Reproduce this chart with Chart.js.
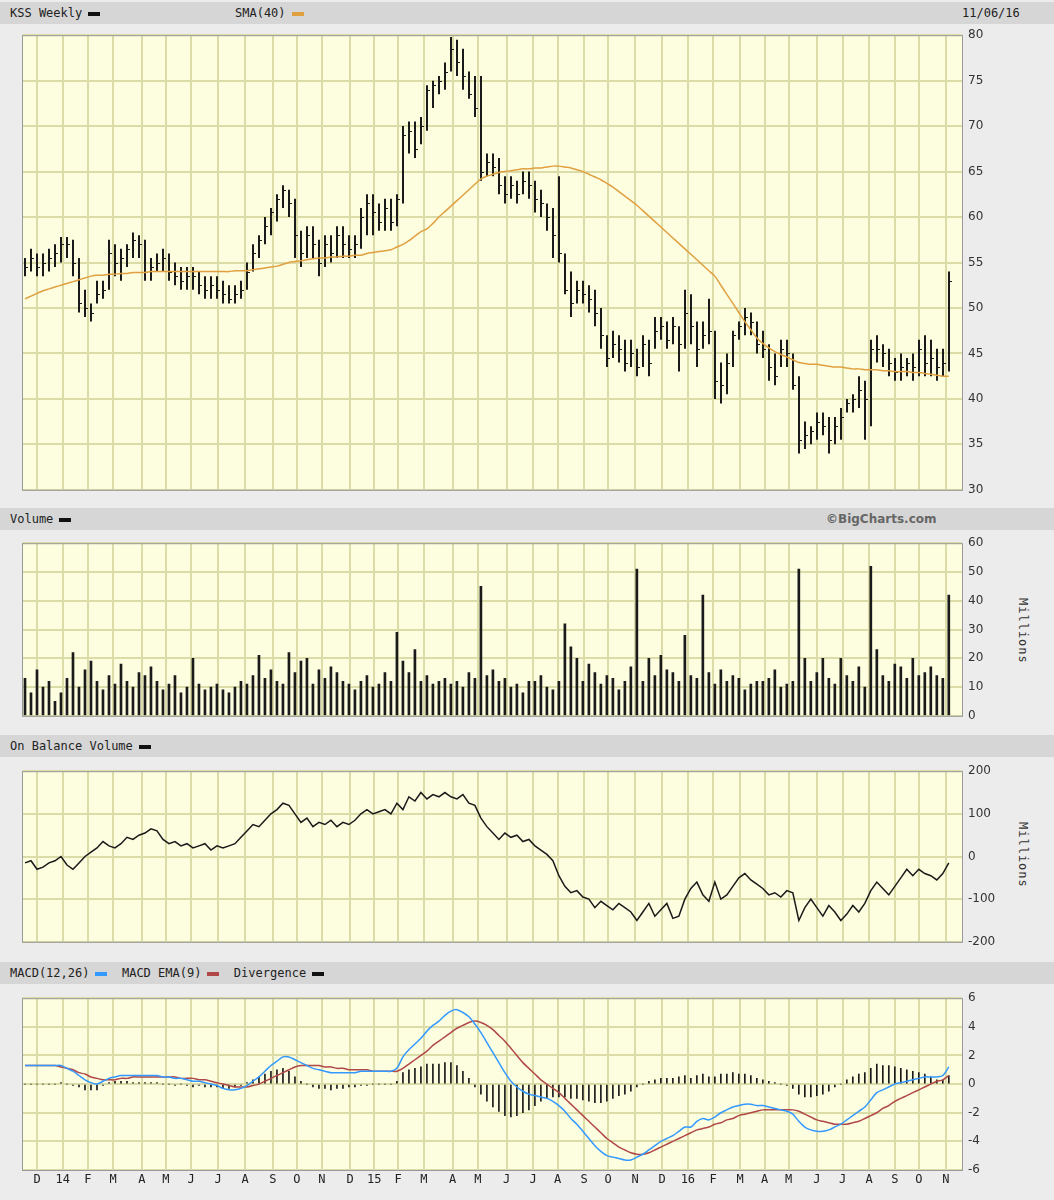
<!DOCTYPE html>
<html>
<head>
<meta charset="utf-8">
<script src="https://cdn.jsdelivr.net/npm/chart.js@4.4.1/dist/chart.umd.min.js"></script>
<style>
  body { margin: 0; background: #ececec; width: 1054px; height: 1200px; position: relative; overflow: hidden; font-family: "DejaVu Sans Mono", monospace; }
  .hdr { position: absolute; left: 0; width: 1054px; height: 22px; background: #d6d6d6; font-size: 12px; color: #222; line-height: 22px; }
  .hdr span { position: absolute; }
  .mk { display: inline-block; width: 12px; height: 4px; vertical-align: middle; margin-left: 6px; }
  canvas { position: absolute; left: 0; }
  .mil { position: absolute; left: 1030px; font-size: 12px; color: #333; transform: rotate(90deg); transform-origin: left top; letter-spacing: 1px; }
</style>
</head>
<body>
<div class="hdr" style="top:2px"><span style="left:10px">KSS Weekly<i class="mk" style="background:#111"></i></span><span style="left:235px">SMA(40)<i class="mk" style="background:#e0a040"></i></span><span style="left:962px">11/06/16</span></div>
<div class="hdr" style="top:508px"><span style="left:10px">Volume<i class="mk" style="background:#111"></i></span><span style="left:826px;font-family:'DejaVu Sans';font-weight:bold;color:#666">©BigCharts.com</span></div>
<div class="hdr" style="top:735px"><span style="left:10px">On Balance Volume<i class="mk" style="background:#111"></i></span></div>
<div class="hdr" style="top:962px"><span style="left:10px">MACD(12,26)<i class="mk" style="background:#3399ff"></i>&nbsp; MACD EMA(9)<i class="mk" style="background:#b04848"></i>&nbsp; Divergence<i class="mk" style="background:#111"></i></span></div>
<div class="mil" style="top:598px">Millions</div>
<div class="mil" style="top:822px">Millions</div>
<canvas id="priceChart" style="top:22px" width="1054" height="481"></canvas>
<canvas id="volChart" style="top:530px" width="1054" height="199"></canvas>
<canvas id="obvChart" style="top:758px" width="1054" height="197"></canvas>
<canvas id="macdChart" style="top:985px" width="1054" height="215"></canvas>
<script>
const closes = [
  54.5,55.5,54.5,55,55.5,56,57,57,55,50.5,
  50,49.5,51.5,52,56,55,55.5,56.5,57.5,57,
  54,54.5,55,55.5,54,53.5,53,53.5,53.5,52.5,
  52,52.5,52,51.5,51,51.5,52,54,56,57.5,
  59,60.5,62,63,61.5,58,56,58,57,55,
  57,56,58,57,56.5,57,60,61.5,60.5,59.5,
  61,59.5,62,69,69.5,67.5,70,74,74.5,75,
  76,78.5,77,75.5,73.5,72,65,66,65.5,63.5,
  62.5,63.5,62.5,64,63.5,62,61.5,60,58,56,
  52,50.5,52,51.5,51,49.5,47,44.5,46,45.5,
  44,45,43.5,46,44,47.5,48,46.5,48,46,
  49.5,48,45.5,47,47.5,42,41.5,44,47,48,
  49,48.5,46,45.5,43.5,42.5,45.5,45,41.5,35.5,
  36,36.5,37.5,37,35.5,37,38,39.5,40,41,
  40,45.5,45.5,45,44,43,43.5,44,43.5,45.5,
  44,44.5,43.5,44,53
];
const highs = [
  55.5,56.5,56,56,56.5,57,57.8,57.8,57.5,55.5,
  52,50.5,53,53,57.5,57,56.5,57,58.3,58,
  57.5,55.5,56,56.5,56,55,54.5,54.5,54.5,54,
  53.5,53.5,53.5,53,52.5,52.5,53,55,57,58,
  60,61,62.5,63.5,63,62,58.5,59,59,57.5,
  58,58,59,59,58,58,61,62.5,62.5,61.5,
  62,62,62.5,70,70.5,70.5,71,74.5,75,75.5,
  77,79.8,79.5,78.5,76,75.5,75.5,67,67,66.5,
  64.5,64.5,64,65,65,64,63,61.5,61,64.5,
  56,54,53,53,52.5,52,50,47,47.5,47,
  46.5,46.5,45.5,47,46.5,49,49,48.5,49,48,
  52,51.5,48.5,48.5,51,47.5,44,45,47.5,48.5,
  50,49.5,48.5,47.5,46,45,46.5,46.5,45,42.5,
  37.5,37,38.5,38.5,38,38,39,40,40.5,42.5,
  42,46.5,47,46,45.5,44.5,45,44.5,45,46.5,
  47,46.5,45.5,45.5,54
];
const lows = [
  53.5,54,53.5,53.5,54,54.5,55,55.5,53.5,49.5,
  49,48.5,50.5,51,52,53.5,53,54.5,55.5,55.5,
  53,53,54,54,53,52.5,52,52,52,51.5,
  51,51,51,50.5,50.5,50.5,51,52,54,55.5,
  57,58,59.5,61,60,55.5,54.5,55.5,55.5,53.5,
  54.5,55,55.5,55.5,55.5,55.5,56.5,58,58,58.5,
  58.5,58.5,59,61.5,67,66.5,68,69.5,72,73.5,
  74,76,75.5,74,73,71,64,64.5,64.5,62.5,
  61.5,62,61.5,62.5,62,60.5,60,58.5,55.5,55,
  51.5,49,50.5,50.5,49.5,48,45.5,43.5,44.5,44,
  43,43.5,42.5,43.5,42.5,45.5,46.5,45.5,46,43,
  45.5,46,43.5,45.5,46,40,39.5,40.5,43.5,46.5,
  47,47,45,44.5,42,41.5,43.5,43.5,41,34,
  34.5,35,35.5,36,34,35,35.5,38.5,38.5,39,
  35.5,37,44,43.5,42.5,42,42,42.5,42,42.5,
  42.5,42.5,42,42.5,43
];
const sma40 = [
  51,51.3,51.6,51.9,52.1,52.3,52.5,52.7,52.9,53.1,
  53.3,53.5,53.6,53.6,53.7,53.7,53.8,53.8,53.9,53.9,
  53.9,54,54,54,54,54,54,54,54,54,
  54,54,54,54,54,54.1,54.1,54.1,54.2,54.3,
  54.4,54.5,54.6,54.8,55,55.1,55.2,55.3,55.4,55.5,
  55.5,55.6,55.6,55.7,55.7,55.8,55.8,56,56.1,56.2,
  56.3,56.4,56.7,57,57.4,57.9,58.4,58.7,59.3,60,
  60.6,61.2,61.8,62.4,63,63.6,64.2,64.5,64.7,64.9,
  65,65.1,65.2,65.3,65.3,65.4,65.4,65.5,65.6,65.6,
  65.5,65.4,65.2,65,64.7,64.4,64.1,63.7,63.3,62.8,
  62.3,61.8,61.3,60.7,60.1,59.5,58.9,58.3,57.7,57.1,
  56.5,55.9,55.3,54.7,54.1,53.5,52.5,51.5,50.5,49.5,
  48.5,47.6,46.7,46.1,45.6,45.2,44.9,44.6,44.3,44,
  43.9,43.8,43.8,43.7,43.6,43.5,43.5,43.4,43.3,43.3,
  43.2,43.2,43.2,43.1,43.1,43,43,43,42.9,42.9,
  42.8,42.7,42.6,42.5,42.5
];
const volume = [
  13,8,16,10,12,5,8,13,22,10,
  16,19,12,9,14,11,18,12,10,15,
  14,17,12,9,11,14,8,10,20,11,
  9,10,11,9,8,10,12,11,14,21,
  13,16,12,11,22,15,19,20,11,16,
  13,17,15,12,11,9,12,14,10,11,
  15,12,29,19,15,23,12,14,11,12,
  13,11,12,10,15,13,45,14,16,12,
  13,10,11,8,12,12,14,10,9,12,
  32,24,20,12,18,15,11,14,13,9,
  12,17,51,12,20,14,21,16,15,12,
  28,14,13,42,15,11,16,12,14,13,
  9,11,12,12,13,16,10,11,12,51,
  20,12,15,20,13,11,20,14,12,17,
  10,52,23,14,12,18,17,13,20,14,
  15,17,14,13,42
];
const obv = [
  -15,-10,-30,-25,-15,-10,0,-20,-30,-15,
  0,10,20,35,25,20,30,45,40,50,
  55,65,60,40,30,35,25,30,20,25,
  30,15,25,20,25,30,45,60,75,70,
  85,100,110,125,120,100,80,90,70,80,
  75,85,70,80,75,85,100,110,100,105,
  110,100,125,110,140,130,150,135,145,140,
  150,140,135,145,125,120,90,70,55,40,
  55,45,50,35,40,25,15,5,-10,-45,
  -70,-85,-80,-95,-100,-120,-105,-115,-125,-110,
  -120,-130,-150,-130,-110,-140,-125,-110,-145,-140,
  -100,-75,-60,-90,-105,-60,-100,-90,-70,-50,
  -40,-55,-65,-75,-90,-85,-95,-80,-85,-150,
  -120,-100,-120,-140,-115,-130,-150,-135,-115,-130,
  -110,-80,-60,-75,-90,-70,-50,-30,-45,-30,
  -40,-45,-55,-40,-15
];
const macd = [
  1.3,1.3,1.3,1.3,1.3,1.3,1.3,1.1,0.9,0.6,
  0.3,0.1,0,0.2,0.4,0.5,0.6,0.6,0.6,0.6,
  0.6,0.6,0.6,0.5,0.5,0.4,0.4,0.3,0.2,0.2,
  0.1,0,-0.1,-0.3,-0.4,-0.4,-0.3,-0.1,0.2,0.5,
  0.9,1.3,1.6,1.9,1.9,1.7,1.5,1.3,1.1,1.0,
  0.9,0.8,0.8,0.8,0.8,0.8,0.9,0.9,0.9,0.9,
  0.9,0.9,1.1,1.9,2.4,2.8,3.2,3.7,4.1,4.4,
  4.8,5.1,5.2,5.0,4.7,4.2,3.6,2.9,2.2,1.5,
  0.8,0.2,-0.2,-0.5,-0.7,-0.8,-0.9,-1.0,-1.2,-1.5,
  -1.9,-2.4,-2.8,-3.3,-3.8,-4.3,-4.7,-5.0,-5.1,-5.2,
  -5.3,-5.3,-5.1,-4.9,-4.6,-4.3,-4.0,-3.8,-3.6,-3.3,
  -3.0,-3.0,-2.6,-2.4,-2.5,-2.3,-2.0,-1.8,-1.6,-1.5,
  -1.4,-1.4,-1.5,-1.5,-1.6,-1.7,-1.8,-1.9,-2.1,-2.6,
  -3.0,-3.2,-3.3,-3.3,-3.2,-3.0,-2.8,-2.5,-2.2,-1.9,
  -1.6,-1.1,-0.6,-0.4,-0.2,0,0.1,0.2,0.3,0.4,
  0.5,0.5,0.5,0.6,1.2
];
const macdEma = [
  1.3,1.3,1.3,1.3,1.3,1.3,1.2,1.1,1.0,0.8,
  0.7,0.5,0.4,0.3,0.3,0.3,0.4,0.4,0.5,0.5,
  0.5,0.5,0.5,0.5,0.5,0.5,0.4,0.4,0.4,0.3,
  0.3,0.2,0.1,0,-0.1,-0.2,-0.2,-0.2,-0.1,0,
  0.2,0.4,0.6,0.8,1.0,1.2,1.3,1.3,1.3,1.3,
  1.2,1.2,1.1,1.1,1.0,1.0,1.0,1.0,0.9,0.9,
  0.9,0.9,0.9,1.1,1.4,1.7,2.0,2.3,2.7,3.0,
  3.3,3.6,3.9,4.1,4.3,4.4,4.3,4.1,3.8,3.4,
  3.0,2.5,2.0,1.5,1.1,0.7,0.3,0,-0.3,-0.6,
  -1.0,-1.4,-1.8,-2.2,-2.6,-3.0,-3.4,-3.8,-4.1,-4.4,
  -4.6,-4.8,-4.9,-4.9,-4.8,-4.6,-4.4,-4.2,-4.0,-3.8,
  -3.6,-3.4,-3.2,-3.1,-3.0,-2.8,-2.7,-2.5,-2.4,-2.2,
  -2.1,-2.0,-1.9,-1.8,-1.8,-1.8,-1.8,-1.8,-1.8,-1.9,
  -2.1,-2.3,-2.5,-2.6,-2.7,-2.8,-2.8,-2.8,-2.7,-2.6,
  -2.4,-2.2,-2.0,-1.7,-1.5,-1.2,-1.0,-0.8,-0.6,-0.4,
  -0.2,0,0.2,0.3,0.6
];
// month grid positions, in week index units
const monthTicks = [2,6.3,10.5,14.7,19.5,23.5,27.7,32.2,36.7,41.3,45.3,49.5,54.2,58.2,62.2,66.5,71.3,75.5,80.3,84.7,88.8,93.2,97.2,101.7,106.2,110.5,114.7,119.2,123.3,127.3,132,136.3,140.7,145,149,153.5];
const monthLabels = ['D','14','F','M','A','M','J','J','A','S','O','N','D','15','F','M','A','M','J','J','A','S','O','N','D','16','F','M','A','M','J','J','A','S','O','N'];

const pts = arr => arr.map((v, i) => ({ x: i, y: v }));
const GRID = '#dcdca8';

const panelBg = {
  id: 'panelBg',
  beforeDraw(chart) {
    const { ctx, chartArea: a } = chart;
    ctx.save();
    ctx.fillStyle = '#fdfde0';
    ctx.fillRect(a.left, a.top, a.right - a.left, a.bottom - a.top);
    ctx.restore();
  },
  afterDraw(chart) {
    const { ctx, chartArea: a } = chart;
    ctx.save();
    ctx.strokeStyle = '#999';
    ctx.lineWidth = 1;
    ctx.strokeRect(a.left + 0.5, a.top + 0.5, a.right - a.left, a.bottom - a.top);
    ctx.restore();
  }
};

const ohlcBars = {
  id: 'ohlcBars',
  beforeDatasetsDraw(chart) {
    const { ctx, scales: { x, y } } = chart;
    ctx.save();
    ctx.strokeStyle = '#1a1a1a';
    closes.forEach((c, i) => {
      const px = Math.round(x.getPixelForValue(i));
      ctx.lineWidth = 2;
      ctx.beginPath();
      ctx.moveTo(px, y.getPixelForValue(highs[i]));
      ctx.lineTo(px, y.getPixelForValue(lows[i]));
      ctx.stroke();
      const py = Math.round(y.getPixelForValue(c)) + 0.5;
      ctx.lineWidth = 1;
      ctx.beginPath();
      ctx.moveTo(px, py);
      ctx.lineTo(px + 3, py);
      ctx.stroke();
    });
    ctx.restore();
  }
};

function xAxis(showLabels) {
  return {
    type: 'linear', min: -0.5, max: 156.2, offset: false,
    afterBuildTicks: ax => { ax.ticks = monthTicks.map(v => ({ value: v })); },
    afterFit: ax => { ax.height = showLabels ? 30 : 0; },
    ticks: {
      display: showLabels, autoSkip: false, maxRotation: 0,
      color: '#222', font: { family: 'DejaVu Sans Mono', size: 12 },
      callback: (v, i) => monthLabels[i]
    },
    grid: { color: GRID, lineWidth: 2, drawTicks: false, offset: false },
    border: { display: false }
  };
}

function yAxis(min, max, step) {
  return {
    position: 'right', min: min, max: max,
    afterFit: ax => { ax.width = 92; },
    ticks: {
      stepSize: step, color: '#333', padding: 6,
      font: { family: 'DejaVu Sans', size: 12 }
    },
    grid: { color: GRID, lineWidth: 2, drawTicks: false },
    border: { display: false }
  };
}

function baseOptions(pad, showX, y) {
  return {
    responsive: false, animation: false, events: [],
    layout: { padding: { left: 22, right: 0, top: pad[0], bottom: pad[1] } },
    plugins: { legend: { display: false }, tooltip: { enabled: false } },
    scales: { x: xAxis(showX), y: y }
  };
}

new Chart(document.getElementById('priceChart'), {
  type: 'line',
  data: { datasets: [{ data: pts(sma40), borderColor: '#e0a040', borderWidth: 1.5, pointRadius: 0, tension: 0.3 }] },
  options: baseOptions([10, 10], false, yAxis(30, 80, 5)),
  plugins: [panelBg, ohlcBars]
});

new Chart(document.getElementById('volChart'), {
  type: 'bar',
  data: { datasets: [{ data: pts(volume), backgroundColor: '#1a1a1a', barThickness: 2 }] },
  options: baseOptions([10, 10], false, yAxis(0, 60, 10)),
  plugins: [panelBg]
});

new Chart(document.getElementById('obvChart'), {
  type: 'line',
  data: { datasets: [{ data: pts(obv), borderColor: '#1a1a1a', borderWidth: 1.5, pointRadius: 0, tension: 0 }] },
  options: baseOptions([10, 10], false, yAxis(-200, 200, 100)),
  plugins: [panelBg]
});

new Chart(document.getElementById('macdChart'), {
  type: 'bar',
  data: {
    datasets: [
      { type: 'line', data: pts(macd), borderColor: '#3399ff', borderWidth: 1.5, pointRadius: 0, tension: 0.3, order: 1 },
      { type: 'line', data: pts(macdEma), borderColor: '#b04848', borderWidth: 1.5, pointRadius: 0, tension: 0.3, order: 2 },
      { data: macd.map((v, i) => ({ x: i, y: v - macdEma[i] })), backgroundColor: '#1a1a1a', barThickness: 1, order: 3 }
    ]
  },
  options: baseOptions([10, 0], true, yAxis(-6, 6, 2)),
  plugins: [panelBg]
});
</script>
</body>
</html>
